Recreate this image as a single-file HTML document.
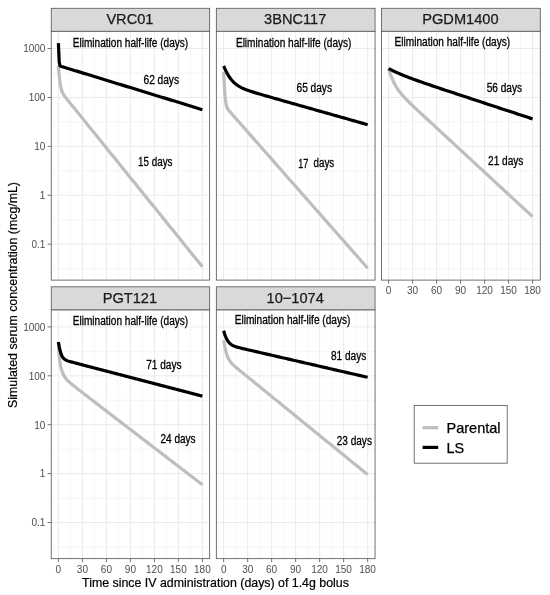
<!DOCTYPE html>
<html><head><meta charset="utf-8"><title>Simulated serum concentration</title>
<style>html,body{margin:0;padding:0;background:#fff}svg{display:block}</style></head>
<body>
<svg width="550" height="595" viewBox="0 0 550 595" font-family="'Liberation Sans', sans-serif">
<rect width="550" height="595" fill="#fff"/>
<rect x="51.25" y="8.3" width="158.4" height="23.05" fill="#d9d9d9" stroke="#5a5a5a" stroke-width="0.85"/>
<text x="129.9" y="24.3" font-size="14.6" text-anchor="middle" fill="#1a1a1a" stroke="#1a1a1a" stroke-width="0.25">VRC01</text>
<rect x="51.25" y="31.35" width="158.4" height="248.75" fill="#fff"/>
<line x1="58.40" x2="58.40" y1="31.35" y2="280.1" stroke="#ebebeb" stroke-width="1.0"/>
<line x1="70.40" x2="70.40" y1="31.35" y2="280.1" stroke="#ebebeb" stroke-width="0.5"/>
<line x1="82.40" x2="82.40" y1="31.35" y2="280.1" stroke="#ebebeb" stroke-width="1.0"/>
<line x1="94.40" x2="94.40" y1="31.35" y2="280.1" stroke="#ebebeb" stroke-width="0.5"/>
<line x1="106.40" x2="106.40" y1="31.35" y2="280.1" stroke="#ebebeb" stroke-width="1.0"/>
<line x1="118.40" x2="118.40" y1="31.35" y2="280.1" stroke="#ebebeb" stroke-width="0.5"/>
<line x1="130.40" x2="130.40" y1="31.35" y2="280.1" stroke="#ebebeb" stroke-width="1.0"/>
<line x1="142.40" x2="142.40" y1="31.35" y2="280.1" stroke="#ebebeb" stroke-width="0.5"/>
<line x1="154.40" x2="154.40" y1="31.35" y2="280.1" stroke="#ebebeb" stroke-width="1.0"/>
<line x1="166.40" x2="166.40" y1="31.35" y2="280.1" stroke="#ebebeb" stroke-width="0.5"/>
<line x1="178.40" x2="178.40" y1="31.35" y2="280.1" stroke="#ebebeb" stroke-width="1.0"/>
<line x1="190.40" x2="190.40" y1="31.35" y2="280.1" stroke="#ebebeb" stroke-width="0.5"/>
<line x1="202.40" x2="202.40" y1="31.35" y2="280.1" stroke="#ebebeb" stroke-width="1.0"/>
<line x1="51.25" x2="209.65" y1="268.60" y2="268.60" stroke="#ebebeb" stroke-width="0.5"/>
<line x1="51.25" x2="209.65" y1="244.15" y2="244.15" stroke="#ebebeb" stroke-width="1.0"/>
<line x1="51.25" x2="209.65" y1="219.70" y2="219.70" stroke="#ebebeb" stroke-width="0.5"/>
<line x1="51.25" x2="209.65" y1="195.25" y2="195.25" stroke="#ebebeb" stroke-width="1.0"/>
<line x1="51.25" x2="209.65" y1="170.80" y2="170.80" stroke="#ebebeb" stroke-width="0.5"/>
<line x1="51.25" x2="209.65" y1="146.35" y2="146.35" stroke="#ebebeb" stroke-width="1.0"/>
<line x1="51.25" x2="209.65" y1="121.90" y2="121.90" stroke="#ebebeb" stroke-width="0.5"/>
<line x1="51.25" x2="209.65" y1="97.45" y2="97.45" stroke="#ebebeb" stroke-width="1.0"/>
<line x1="51.25" x2="209.65" y1="73.00" y2="73.00" stroke="#ebebeb" stroke-width="0.5"/>
<line x1="51.25" x2="209.65" y1="48.55" y2="48.55" stroke="#ebebeb" stroke-width="1.0"/>
<polyline points="58.4,65.41 59.2,75.29 60,82.44 60.8,87.21 61.6,90.32 62.4,92.41 63.2,93.96 64,95.22 64.8,96.35 65.6,97.41 66.4,98.43 67.2,99.43 68,100.43 68.8,101.42 69.6,102.42 70.4,103.41 71.2,104.4 72,105.39 72.8,106.38 73.6,107.37 74.4,108.36 75.2,109.35 76,110.34 76.8,111.33 77.6,112.32 78.4,113.31 79.2,114.3 80,115.29 80.8,116.28 81.6,117.27 82.4,118.26 84.8,121.23 87.2,124.2 89.6,127.17 92,130.14 94.4,133.11 96.8,136.07 99.2,139.04 101.6,142.01 104,144.98 106.4,147.95 108.8,150.92 111.2,153.89 113.6,156.86 116,159.83 118.4,162.8 120.8,165.77 123.2,168.74 125.6,171.71 128,174.68 130.4,177.65 132.8,180.62 135.2,183.59 137.6,186.56 140,189.53 142.4,192.5 144.8,195.47 147.2,198.44 149.6,201.41 152,204.38 154.4,207.35 156.8,210.32 159.2,213.29 161.6,216.26 164,219.23 166.4,222.2 168.8,225.17 171.2,228.14 173.6,231.11 176,234.08 178.4,237.05 180.8,240.02 183.2,242.99 185.6,245.96 188,248.93 190.4,251.9 192.8,254.87 195.2,257.84 197.6,260.81 200,263.78 202.4,266.75" fill="none" stroke="#bebebe" stroke-width="3.2" stroke-linejoin="round"/>
<polyline points="58.4,43.11 59.2,62.1 60,65.6 60.8,66.2 61.6,66.49 62.4,66.73 63.2,66.98 64,67.23 64.8,67.47 65.6,67.72 66.4,67.96 67.2,68.21 68,68.45 68.8,68.7 69.6,68.94 70.4,69.19 71.2,69.43 72,69.68 72.8,69.92 73.6,70.17 74.4,70.41 75.2,70.66 76,70.91 76.8,71.15 77.6,71.4 78.4,71.64 79.2,71.89 80,72.13 80.8,72.38 81.6,72.62 82.4,72.87 84.8,73.6 87.2,74.34 89.6,75.08 92,75.81 94.4,76.55 96.8,77.28 99.2,78.02 101.6,78.76 104,79.49 106.4,80.23 108.8,80.96 111.2,81.7 113.6,82.44 116,83.17 118.4,83.91 120.8,84.64 123.2,85.38 125.6,86.12 128,86.85 130.4,87.59 132.8,88.32 135.2,89.06 137.6,89.8 140,90.53 142.4,91.27 144.8,92 147.2,92.74 149.6,93.48 152,94.21 154.4,94.95 156.8,95.68 159.2,96.42 161.6,97.16 164,97.89 166.4,98.63 168.8,99.36 171.2,100.1 173.6,100.84 176,101.57 178.4,102.31 180.8,103.04 183.2,103.78 185.6,104.52 188,105.25 190.4,105.99 192.8,106.72 195.2,107.46 197.6,108.2 200,108.93 202.4,109.67" fill="none" stroke="#000" stroke-width="3.2" stroke-linejoin="round"/>
<text x="72.7" y="46.5" font-size="12" textLength="115.5" lengthAdjust="spacingAndGlyphs" fill="#000" stroke="#000" stroke-width="0.3">Elimination half-life (days)</text>
<text x="143.5" y="84.0" font-size="12" textLength="35.5" lengthAdjust="spacingAndGlyphs" fill="#000" stroke="#000" stroke-width="0.3">62 days</text>
<text x="138.1" y="165.6" font-size="12" textLength="34.4" lengthAdjust="spacingAndGlyphs" fill="#000" stroke="#000" stroke-width="0.3">15 days</text>
<rect x="51.25" y="31.35" width="158.4" height="248.75" fill="none" stroke="#5a5a5a" stroke-width="0.85"/>
<line x1="47.6" x2="51.25" y1="48.55" y2="48.55" stroke="#5a5a5a" stroke-width="0.85"/>
<text x="45.4" y="52.3" font-size="10" text-anchor="end" fill="#4d4d4d">1000</text>
<line x1="47.6" x2="51.25" y1="97.45" y2="97.45" stroke="#5a5a5a" stroke-width="0.85"/>
<text x="45.4" y="101.2" font-size="10" text-anchor="end" fill="#4d4d4d">100</text>
<line x1="47.6" x2="51.25" y1="146.35" y2="146.35" stroke="#5a5a5a" stroke-width="0.85"/>
<text x="45.4" y="150.2" font-size="10" text-anchor="end" fill="#4d4d4d">10</text>
<line x1="47.6" x2="51.25" y1="195.25" y2="195.25" stroke="#5a5a5a" stroke-width="0.85"/>
<text x="45.4" y="199.1" font-size="10" text-anchor="end" fill="#4d4d4d">1</text>
<line x1="47.6" x2="51.25" y1="244.15" y2="244.15" stroke="#5a5a5a" stroke-width="0.85"/>
<text x="45.4" y="247.9" font-size="10" text-anchor="end" fill="#4d4d4d">0.1</text>
<rect x="216.35" y="8.3" width="158.7" height="23.05" fill="#d9d9d9" stroke="#5a5a5a" stroke-width="0.85"/>
<text x="295.2" y="24.3" font-size="14.6" text-anchor="middle" fill="#1a1a1a" stroke="#1a1a1a" stroke-width="0.25">3BNC117</text>
<rect x="216.35" y="31.35" width="158.7" height="248.75" fill="#fff"/>
<line x1="223.65" x2="223.65" y1="31.35" y2="280.1" stroke="#ebebeb" stroke-width="1.0"/>
<line x1="235.65" x2="235.65" y1="31.35" y2="280.1" stroke="#ebebeb" stroke-width="0.5"/>
<line x1="247.65" x2="247.65" y1="31.35" y2="280.1" stroke="#ebebeb" stroke-width="1.0"/>
<line x1="259.65" x2="259.65" y1="31.35" y2="280.1" stroke="#ebebeb" stroke-width="0.5"/>
<line x1="271.65" x2="271.65" y1="31.35" y2="280.1" stroke="#ebebeb" stroke-width="1.0"/>
<line x1="283.65" x2="283.65" y1="31.35" y2="280.1" stroke="#ebebeb" stroke-width="0.5"/>
<line x1="295.65" x2="295.65" y1="31.35" y2="280.1" stroke="#ebebeb" stroke-width="1.0"/>
<line x1="307.65" x2="307.65" y1="31.35" y2="280.1" stroke="#ebebeb" stroke-width="0.5"/>
<line x1="319.65" x2="319.65" y1="31.35" y2="280.1" stroke="#ebebeb" stroke-width="1.0"/>
<line x1="331.65" x2="331.65" y1="31.35" y2="280.1" stroke="#ebebeb" stroke-width="0.5"/>
<line x1="343.65" x2="343.65" y1="31.35" y2="280.1" stroke="#ebebeb" stroke-width="1.0"/>
<line x1="355.65" x2="355.65" y1="31.35" y2="280.1" stroke="#ebebeb" stroke-width="0.5"/>
<line x1="367.65" x2="367.65" y1="31.35" y2="280.1" stroke="#ebebeb" stroke-width="1.0"/>
<line x1="216.35" x2="375.0" y1="268.60" y2="268.60" stroke="#ebebeb" stroke-width="0.5"/>
<line x1="216.35" x2="375.0" y1="244.15" y2="244.15" stroke="#ebebeb" stroke-width="1.0"/>
<line x1="216.35" x2="375.0" y1="219.70" y2="219.70" stroke="#ebebeb" stroke-width="0.5"/>
<line x1="216.35" x2="375.0" y1="195.25" y2="195.25" stroke="#ebebeb" stroke-width="1.0"/>
<line x1="216.35" x2="375.0" y1="170.80" y2="170.80" stroke="#ebebeb" stroke-width="0.5"/>
<line x1="216.35" x2="375.0" y1="146.35" y2="146.35" stroke="#ebebeb" stroke-width="1.0"/>
<line x1="216.35" x2="375.0" y1="121.90" y2="121.90" stroke="#ebebeb" stroke-width="0.5"/>
<line x1="216.35" x2="375.0" y1="97.45" y2="97.45" stroke="#ebebeb" stroke-width="1.0"/>
<line x1="216.35" x2="375.0" y1="73.00" y2="73.00" stroke="#ebebeb" stroke-width="0.5"/>
<line x1="216.35" x2="375.0" y1="48.55" y2="48.55" stroke="#ebebeb" stroke-width="1.0"/>
<polyline points="223.65,71.82 224.45,87.62 225.25,98.18 226.05,104.01 226.85,107 227.65,108.71 228.45,109.92 229.25,110.93 230.05,111.88 230.85,112.8 231.65,113.72 232.45,114.63 233.25,115.54 234.05,116.45 234.85,117.36 235.65,118.26 236.45,119.17 237.25,120.08 238.05,120.99 238.85,121.9 239.65,122.81 240.45,123.72 241.25,124.62 242.05,125.53 242.85,126.44 243.65,127.35 244.45,128.26 245.25,129.17 246.05,130.08 246.85,130.99 247.65,131.89 250.05,134.62 252.45,137.35 254.85,140.07 257.25,142.8 259.65,145.52 262.05,148.25 264.45,150.98 266.85,153.7 269.25,156.43 271.65,159.15 274.05,161.88 276.45,164.61 278.85,167.33 281.25,170.06 283.65,172.78 286.05,175.51 288.45,178.24 290.85,180.96 293.25,183.69 295.65,186.41 298.05,189.14 300.45,191.87 302.85,194.59 305.25,197.32 307.65,200.04 310.05,202.77 312.45,205.5 314.85,208.22 317.25,210.95 319.65,213.67 322.05,216.4 324.45,219.13 326.85,221.85 329.25,224.58 331.65,227.3 334.05,230.03 336.45,232.76 338.85,235.48 341.25,238.21 343.65,240.93 346.05,243.66 348.45,246.39 350.85,249.11 353.25,251.84 355.65,254.56 358.05,257.29 360.45,260.02 362.85,262.74 365.25,265.47 367.65,268.19" fill="none" stroke="#bebebe" stroke-width="3.2" stroke-linejoin="round"/>
<polyline points="223.65,65.99 224.45,67.82 225.25,69.56 226.05,71.19 226.85,72.73 227.65,74.17 228.45,75.52 229.25,76.77 230.05,77.93 230.85,79.01 231.65,80.01 232.45,80.93 233.25,81.79 234.05,82.58 234.85,83.31 235.65,83.98 236.45,84.61 237.25,85.19 238.05,85.73 238.85,86.24 239.65,86.71 240.45,87.15 241.25,87.57 242.05,87.96 242.85,88.33 243.65,88.69 244.45,89.03 245.25,89.36 246.05,89.67 246.85,89.97 247.65,90.26 250.05,91.1 252.45,91.88 254.85,92.63 257.25,93.35 259.65,94.06 262.05,94.76 264.45,95.45 266.85,96.14 269.25,96.83 271.65,97.51 274.05,98.19 276.45,98.87 278.85,99.56 281.25,100.24 283.65,100.92 286.05,101.59 288.45,102.27 290.85,102.95 293.25,103.63 295.65,104.31 298.05,104.99 300.45,105.67 302.85,106.35 305.25,107.03 307.65,107.71 310.05,108.39 312.45,109.07 314.85,109.75 317.25,110.43 319.65,111.11 322.05,111.79 324.45,112.47 326.85,113.15 329.25,113.82 331.65,114.5 334.05,115.18 336.45,115.86 338.85,116.54 341.25,117.22 343.65,117.9 346.05,118.58 348.45,119.26 350.85,119.94 353.25,120.62 355.65,121.3 358.05,121.98 360.45,122.66 362.85,123.34 365.25,124.02 367.65,124.7" fill="none" stroke="#000" stroke-width="3.2" stroke-linejoin="round"/>
<text x="235.9" y="46.5" font-size="12" textLength="115.6" lengthAdjust="spacingAndGlyphs" fill="#000" stroke="#000" stroke-width="0.3">Elimination half-life (days)</text>
<text x="296.5" y="91.9" font-size="12" textLength="35.5" lengthAdjust="spacingAndGlyphs" fill="#000" stroke="#000" stroke-width="0.3">65 days</text>
<text x="298.3" y="167.6" font-size="12" textLength="10.0" lengthAdjust="spacingAndGlyphs" fill="#000" stroke="#000" stroke-width="0.3">17</text>
<text x="313.5" y="166.6" font-size="12" textLength="20.8" lengthAdjust="spacingAndGlyphs" fill="#000" stroke="#000" stroke-width="0.3">days</text>
<rect x="216.35" y="31.35" width="158.7" height="248.75" fill="none" stroke="#5a5a5a" stroke-width="0.85"/>
<rect x="381.5" y="8.3" width="158.8" height="23.05" fill="#d9d9d9" stroke="#5a5a5a" stroke-width="0.85"/>
<text x="460.4" y="24.3" font-size="14.6" text-anchor="middle" fill="#1a1a1a" stroke="#1a1a1a" stroke-width="0.25">PGDM1400</text>
<rect x="381.5" y="31.35" width="158.8" height="248.75" fill="#fff"/>
<line x1="388.60" x2="388.60" y1="31.35" y2="280.1" stroke="#ebebeb" stroke-width="1.0"/>
<line x1="400.60" x2="400.60" y1="31.35" y2="280.1" stroke="#ebebeb" stroke-width="0.5"/>
<line x1="412.60" x2="412.60" y1="31.35" y2="280.1" stroke="#ebebeb" stroke-width="1.0"/>
<line x1="424.60" x2="424.60" y1="31.35" y2="280.1" stroke="#ebebeb" stroke-width="0.5"/>
<line x1="436.60" x2="436.60" y1="31.35" y2="280.1" stroke="#ebebeb" stroke-width="1.0"/>
<line x1="448.60" x2="448.60" y1="31.35" y2="280.1" stroke="#ebebeb" stroke-width="0.5"/>
<line x1="460.60" x2="460.60" y1="31.35" y2="280.1" stroke="#ebebeb" stroke-width="1.0"/>
<line x1="472.60" x2="472.60" y1="31.35" y2="280.1" stroke="#ebebeb" stroke-width="0.5"/>
<line x1="484.60" x2="484.60" y1="31.35" y2="280.1" stroke="#ebebeb" stroke-width="1.0"/>
<line x1="496.60" x2="496.60" y1="31.35" y2="280.1" stroke="#ebebeb" stroke-width="0.5"/>
<line x1="508.60" x2="508.60" y1="31.35" y2="280.1" stroke="#ebebeb" stroke-width="1.0"/>
<line x1="520.60" x2="520.60" y1="31.35" y2="280.1" stroke="#ebebeb" stroke-width="0.5"/>
<line x1="532.60" x2="532.60" y1="31.35" y2="280.1" stroke="#ebebeb" stroke-width="1.0"/>
<line x1="381.5" x2="540.25" y1="268.60" y2="268.60" stroke="#ebebeb" stroke-width="0.5"/>
<line x1="381.5" x2="540.25" y1="244.15" y2="244.15" stroke="#ebebeb" stroke-width="1.0"/>
<line x1="381.5" x2="540.25" y1="219.70" y2="219.70" stroke="#ebebeb" stroke-width="0.5"/>
<line x1="381.5" x2="540.25" y1="195.25" y2="195.25" stroke="#ebebeb" stroke-width="1.0"/>
<line x1="381.5" x2="540.25" y1="170.80" y2="170.80" stroke="#ebebeb" stroke-width="0.5"/>
<line x1="381.5" x2="540.25" y1="146.35" y2="146.35" stroke="#ebebeb" stroke-width="1.0"/>
<line x1="381.5" x2="540.25" y1="121.90" y2="121.90" stroke="#ebebeb" stroke-width="0.5"/>
<line x1="381.5" x2="540.25" y1="97.45" y2="97.45" stroke="#ebebeb" stroke-width="1.0"/>
<line x1="381.5" x2="540.25" y1="73.00" y2="73.00" stroke="#ebebeb" stroke-width="0.5"/>
<line x1="381.5" x2="540.25" y1="48.55" y2="48.55" stroke="#ebebeb" stroke-width="1.0"/>
<polyline points="388.6,68.55 389.4,71.08 390.2,73.46 391,75.68 391.8,77.74 392.6,79.66 393.4,81.45 394.2,83.1 395,84.64 395.8,86.08 396.6,87.42 397.4,88.68 398.2,89.87 399,90.99 399.8,92.05 400.6,93.07 401.4,94.05 402.2,94.99 403,95.9 403.8,96.78 404.6,97.64 405.4,98.48 406.2,99.31 407,100.12 407.8,100.92 408.6,101.71 409.4,102.49 410.2,103.27 411,104.04 411.8,104.8 412.6,105.57 415,107.83 417.4,110.08 419.8,112.31 422.2,114.54 424.6,116.77 427,118.99 429.4,121.21 431.8,123.43 434.2,125.65 436.6,127.87 439,130.09 441.4,132.31 443.8,134.53 446.2,136.75 448.6,138.96 451,141.18 453.4,143.4 455.8,145.62 458.2,147.84 460.6,150.06 463,152.28 465.4,154.5 467.8,156.72 470.2,158.94 472.6,161.16 475,163.38 477.4,165.59 479.8,167.81 482.2,170.03 484.6,172.25 487,174.47 489.4,176.69 491.8,178.91 494.2,181.13 496.6,183.35 499,185.57 501.4,187.79 503.8,190.01 506.2,192.22 508.6,194.44 511,196.66 513.4,198.88 515.8,201.1 518.2,203.32 520.6,205.54 523,207.76 525.4,209.98 527.8,212.2 530.2,214.42 532.6,216.64" fill="none" stroke="#bebebe" stroke-width="3.2" stroke-linejoin="round"/>
<polyline points="388.6,68.55 389.4,68.97 390.2,69.38 391,69.78 391.8,70.18 392.6,70.57 393.4,70.96 394.2,71.34 395,71.71 395.8,72.08 396.6,72.44 397.4,72.8 398.2,73.15 399,73.5 399.8,73.84 400.6,74.18 401.4,74.52 402.2,74.85 403,75.18 403.8,75.5 404.6,75.82 405.4,76.14 406.2,76.46 407,76.77 407.8,77.08 408.6,77.38 409.4,77.69 410.2,77.99 411,78.29 411.8,78.59 412.6,78.89 415,79.77 417.4,80.63 419.8,81.49 422.2,82.33 424.6,83.16 427,83.99 429.4,84.81 431.8,85.63 434.2,86.44 436.6,87.25 439,88.06 441.4,88.86 443.8,89.66 446.2,90.46 448.6,91.26 451,92.05 453.4,92.85 455.8,93.64 458.2,94.43 460.6,95.22 463,96.02 465.4,96.81 467.8,97.6 470.2,98.39 472.6,99.18 475,99.97 477.4,100.76 479.8,101.55 482.2,102.34 484.6,103.13 487,103.92 489.4,104.7 491.8,105.49 494.2,106.28 496.6,107.07 499,107.86 501.4,108.65 503.8,109.44 506.2,110.23 508.6,111.01 511,111.8 513.4,112.59 515.8,113.38 518.2,114.17 520.6,114.96 523,115.75 525.4,116.54 527.8,117.32 530.2,118.11 532.6,118.9" fill="none" stroke="#000" stroke-width="3.2" stroke-linejoin="round"/>
<text x="394.6" y="46.2" font-size="12" textLength="115.5" lengthAdjust="spacingAndGlyphs" fill="#000" stroke="#000" stroke-width="0.3">Elimination half-life (days)</text>
<text x="486.7" y="91.6" font-size="12" textLength="35.3" lengthAdjust="spacingAndGlyphs" fill="#000" stroke="#000" stroke-width="0.3">56 days</text>
<text x="488.1" y="164.6" font-size="12" textLength="35.3" lengthAdjust="spacingAndGlyphs" fill="#000" stroke="#000" stroke-width="0.3">21 days</text>
<rect x="381.5" y="31.35" width="158.8" height="248.75" fill="none" stroke="#5a5a5a" stroke-width="0.85"/>
<line x1="388.60" x2="388.60" y1="280.1" y2="283.7" stroke="#5a5a5a" stroke-width="0.85"/>
<text x="388.6" y="294.1" font-size="10" text-anchor="middle" fill="#4d4d4d">0</text>
<line x1="412.60" x2="412.60" y1="280.1" y2="283.7" stroke="#5a5a5a" stroke-width="0.85"/>
<text x="412.6" y="294.1" font-size="10" text-anchor="middle" fill="#4d4d4d">30</text>
<line x1="436.60" x2="436.60" y1="280.1" y2="283.7" stroke="#5a5a5a" stroke-width="0.85"/>
<text x="436.6" y="294.1" font-size="10" text-anchor="middle" fill="#4d4d4d">60</text>
<line x1="460.60" x2="460.60" y1="280.1" y2="283.7" stroke="#5a5a5a" stroke-width="0.85"/>
<text x="460.6" y="294.1" font-size="10" text-anchor="middle" fill="#4d4d4d">90</text>
<line x1="484.60" x2="484.60" y1="280.1" y2="283.7" stroke="#5a5a5a" stroke-width="0.85"/>
<text x="484.6" y="294.1" font-size="10" text-anchor="middle" fill="#4d4d4d">120</text>
<line x1="508.60" x2="508.60" y1="280.1" y2="283.7" stroke="#5a5a5a" stroke-width="0.85"/>
<text x="508.6" y="294.1" font-size="10" text-anchor="middle" fill="#4d4d4d">150</text>
<line x1="532.60" x2="532.60" y1="280.1" y2="283.7" stroke="#5a5a5a" stroke-width="0.85"/>
<text x="532.6" y="294.1" font-size="10" text-anchor="middle" fill="#4d4d4d">180</text>
<rect x="51.25" y="286.8" width="158.4" height="23.20" fill="#d9d9d9" stroke="#5a5a5a" stroke-width="0.85"/>
<text x="129.9" y="302.8" font-size="14.6" text-anchor="middle" fill="#1a1a1a" stroke="#1a1a1a" stroke-width="0.25">PGT121</text>
<rect x="51.25" y="310.0" width="158.4" height="248.65" fill="#fff"/>
<line x1="58.40" x2="58.40" y1="310.0" y2="558.65" stroke="#ebebeb" stroke-width="1.0"/>
<line x1="70.40" x2="70.40" y1="310.0" y2="558.65" stroke="#ebebeb" stroke-width="0.5"/>
<line x1="82.40" x2="82.40" y1="310.0" y2="558.65" stroke="#ebebeb" stroke-width="1.0"/>
<line x1="94.40" x2="94.40" y1="310.0" y2="558.65" stroke="#ebebeb" stroke-width="0.5"/>
<line x1="106.40" x2="106.40" y1="310.0" y2="558.65" stroke="#ebebeb" stroke-width="1.0"/>
<line x1="118.40" x2="118.40" y1="310.0" y2="558.65" stroke="#ebebeb" stroke-width="0.5"/>
<line x1="130.40" x2="130.40" y1="310.0" y2="558.65" stroke="#ebebeb" stroke-width="1.0"/>
<line x1="142.40" x2="142.40" y1="310.0" y2="558.65" stroke="#ebebeb" stroke-width="0.5"/>
<line x1="154.40" x2="154.40" y1="310.0" y2="558.65" stroke="#ebebeb" stroke-width="1.0"/>
<line x1="166.40" x2="166.40" y1="310.0" y2="558.65" stroke="#ebebeb" stroke-width="0.5"/>
<line x1="178.40" x2="178.40" y1="310.0" y2="558.65" stroke="#ebebeb" stroke-width="1.0"/>
<line x1="190.40" x2="190.40" y1="310.0" y2="558.65" stroke="#ebebeb" stroke-width="0.5"/>
<line x1="202.40" x2="202.40" y1="310.0" y2="558.65" stroke="#ebebeb" stroke-width="1.0"/>
<line x1="51.25" x2="209.65" y1="546.95" y2="546.95" stroke="#ebebeb" stroke-width="0.5"/>
<line x1="51.25" x2="209.65" y1="522.50" y2="522.50" stroke="#ebebeb" stroke-width="1.0"/>
<line x1="51.25" x2="209.65" y1="498.05" y2="498.05" stroke="#ebebeb" stroke-width="0.5"/>
<line x1="51.25" x2="209.65" y1="473.60" y2="473.60" stroke="#ebebeb" stroke-width="1.0"/>
<line x1="51.25" x2="209.65" y1="449.15" y2="449.15" stroke="#ebebeb" stroke-width="0.5"/>
<line x1="51.25" x2="209.65" y1="424.70" y2="424.70" stroke="#ebebeb" stroke-width="1.0"/>
<line x1="51.25" x2="209.65" y1="400.25" y2="400.25" stroke="#ebebeb" stroke-width="0.5"/>
<line x1="51.25" x2="209.65" y1="375.80" y2="375.80" stroke="#ebebeb" stroke-width="1.0"/>
<line x1="51.25" x2="209.65" y1="351.35" y2="351.35" stroke="#ebebeb" stroke-width="0.5"/>
<line x1="51.25" x2="209.65" y1="326.90" y2="326.90" stroke="#ebebeb" stroke-width="1.0"/>
<polyline points="58.4,342.3 59.2,355.6 60,362.36 60.8,366.56 61.6,369.67 62.4,372.11 63.2,374.08 64,375.68 64.8,377.01 65.6,378.14 66.4,379.13 67.2,380.02 68,380.83 68.8,381.59 69.6,382.32 70.4,383.02 71.2,383.7 72,384.36 72.8,385.02 73.6,385.67 74.4,386.31 75.2,386.95 76,387.58 76.8,388.22 77.6,388.85 78.4,389.48 79.2,390.1 80,390.73 80.8,391.35 81.6,391.98 82.4,392.6 84.8,394.46 87.2,396.32 89.6,398.18 92,400.03 94.4,401.88 96.8,403.72 99.2,405.57 101.6,407.41 104,409.25 106.4,411.1 108.8,412.94 111.2,414.78 113.6,416.62 116,418.46 118.4,420.3 120.8,422.14 123.2,423.98 125.6,425.82 128,427.66 130.4,429.5 132.8,431.34 135.2,433.18 137.6,435.02 140,436.87 142.4,438.71 144.8,440.55 147.2,442.39 149.6,444.23 152,446.07 154.4,447.91 156.8,449.75 159.2,451.59 161.6,453.43 164,455.27 166.4,457.11 168.8,458.95 171.2,460.79 173.6,462.63 176,464.47 178.4,466.31 180.8,468.15 183.2,469.99 185.6,471.83 188,473.67 190.4,475.51 192.8,477.35 195.2,479.19 197.6,481.03 200,482.87 202.4,484.71" fill="none" stroke="#bebebe" stroke-width="3.2" stroke-linejoin="round"/>
<polyline points="58.4,342.01 59.2,346.61 60,350.29 60.8,353.12 61.6,355.24 62.4,356.8 63.2,357.94 64,358.78 64.8,359.42 65.6,359.91 66.4,360.31 67.2,360.64 68,360.93 68.8,361.19 69.6,361.43 70.4,361.67 71.2,361.89 72,362.11 72.8,362.32 73.6,362.54 74.4,362.75 75.2,362.96 76,363.17 76.8,363.38 77.6,363.59 78.4,363.8 79.2,364.01 80,364.22 80.8,364.42 81.6,364.63 82.4,364.84 84.8,365.47 87.2,366.1 89.6,366.72 92,367.35 94.4,367.97 96.8,368.6 99.2,369.23 101.6,369.85 104,370.48 106.4,371.11 108.8,371.73 111.2,372.36 113.6,372.99 116,373.61 118.4,374.24 120.8,374.86 123.2,375.49 125.6,376.12 128,376.74 130.4,377.37 132.8,378 135.2,378.62 137.6,379.25 140,379.88 142.4,380.5 144.8,381.13 147.2,381.76 149.6,382.38 152,383.01 154.4,383.63 156.8,384.26 159.2,384.89 161.6,385.51 164,386.14 166.4,386.77 168.8,387.39 171.2,388.02 173.6,388.65 176,389.27 178.4,389.9 180.8,390.52 183.2,391.15 185.6,391.78 188,392.4 190.4,393.03 192.8,393.66 195.2,394.28 197.6,394.91 200,395.54 202.4,396.16" fill="none" stroke="#000" stroke-width="3.2" stroke-linejoin="round"/>
<text x="72.7" y="324.5" font-size="12" textLength="115.5" lengthAdjust="spacingAndGlyphs" fill="#000" stroke="#000" stroke-width="0.3">Elimination half-life (days)</text>
<text x="146.2" y="368.6" font-size="12" textLength="35.3" lengthAdjust="spacingAndGlyphs" fill="#000" stroke="#000" stroke-width="0.3">71 days</text>
<text x="160.5" y="443.1" font-size="12" textLength="35.0" lengthAdjust="spacingAndGlyphs" fill="#000" stroke="#000" stroke-width="0.3">24 days</text>
<rect x="51.25" y="310.0" width="158.4" height="248.65" fill="none" stroke="#5a5a5a" stroke-width="0.85"/>
<line x1="47.6" x2="51.25" y1="326.90" y2="326.90" stroke="#5a5a5a" stroke-width="0.85"/>
<text x="45.4" y="330.7" font-size="10" text-anchor="end" fill="#4d4d4d">1000</text>
<line x1="47.6" x2="51.25" y1="375.80" y2="375.80" stroke="#5a5a5a" stroke-width="0.85"/>
<text x="45.4" y="379.6" font-size="10" text-anchor="end" fill="#4d4d4d">100</text>
<line x1="47.6" x2="51.25" y1="424.70" y2="424.70" stroke="#5a5a5a" stroke-width="0.85"/>
<text x="45.4" y="428.5" font-size="10" text-anchor="end" fill="#4d4d4d">10</text>
<line x1="47.6" x2="51.25" y1="473.60" y2="473.60" stroke="#5a5a5a" stroke-width="0.85"/>
<text x="45.4" y="477.4" font-size="10" text-anchor="end" fill="#4d4d4d">1</text>
<line x1="47.6" x2="51.25" y1="522.50" y2="522.50" stroke="#5a5a5a" stroke-width="0.85"/>
<text x="45.4" y="526.3" font-size="10" text-anchor="end" fill="#4d4d4d">0.1</text>
<line x1="58.40" x2="58.40" y1="558.65" y2="562.2" stroke="#5a5a5a" stroke-width="0.85"/>
<text x="58.4" y="572.6" font-size="10" text-anchor="middle" fill="#4d4d4d">0</text>
<line x1="82.40" x2="82.40" y1="558.65" y2="562.2" stroke="#5a5a5a" stroke-width="0.85"/>
<text x="82.4" y="572.6" font-size="10" text-anchor="middle" fill="#4d4d4d">30</text>
<line x1="106.40" x2="106.40" y1="558.65" y2="562.2" stroke="#5a5a5a" stroke-width="0.85"/>
<text x="106.4" y="572.6" font-size="10" text-anchor="middle" fill="#4d4d4d">60</text>
<line x1="130.40" x2="130.40" y1="558.65" y2="562.2" stroke="#5a5a5a" stroke-width="0.85"/>
<text x="130.4" y="572.6" font-size="10" text-anchor="middle" fill="#4d4d4d">90</text>
<line x1="154.40" x2="154.40" y1="558.65" y2="562.2" stroke="#5a5a5a" stroke-width="0.85"/>
<text x="154.4" y="572.6" font-size="10" text-anchor="middle" fill="#4d4d4d">120</text>
<line x1="178.40" x2="178.40" y1="558.65" y2="562.2" stroke="#5a5a5a" stroke-width="0.85"/>
<text x="178.4" y="572.6" font-size="10" text-anchor="middle" fill="#4d4d4d">150</text>
<line x1="202.40" x2="202.40" y1="558.65" y2="562.2" stroke="#5a5a5a" stroke-width="0.85"/>
<text x="202.4" y="572.6" font-size="10" text-anchor="middle" fill="#4d4d4d">180</text>
<rect x="216.35" y="286.8" width="158.7" height="23.20" fill="#d9d9d9" stroke="#5a5a5a" stroke-width="0.85"/>
<text x="295.2" y="302.8" font-size="14.6" text-anchor="middle" fill="#1a1a1a" stroke="#1a1a1a" stroke-width="0.25">10−1074</text>
<rect x="216.35" y="310.0" width="158.7" height="248.65" fill="#fff"/>
<line x1="223.65" x2="223.65" y1="310.0" y2="558.65" stroke="#ebebeb" stroke-width="1.0"/>
<line x1="235.65" x2="235.65" y1="310.0" y2="558.65" stroke="#ebebeb" stroke-width="0.5"/>
<line x1="247.65" x2="247.65" y1="310.0" y2="558.65" stroke="#ebebeb" stroke-width="1.0"/>
<line x1="259.65" x2="259.65" y1="310.0" y2="558.65" stroke="#ebebeb" stroke-width="0.5"/>
<line x1="271.65" x2="271.65" y1="310.0" y2="558.65" stroke="#ebebeb" stroke-width="1.0"/>
<line x1="283.65" x2="283.65" y1="310.0" y2="558.65" stroke="#ebebeb" stroke-width="0.5"/>
<line x1="295.65" x2="295.65" y1="310.0" y2="558.65" stroke="#ebebeb" stroke-width="1.0"/>
<line x1="307.65" x2="307.65" y1="310.0" y2="558.65" stroke="#ebebeb" stroke-width="0.5"/>
<line x1="319.65" x2="319.65" y1="310.0" y2="558.65" stroke="#ebebeb" stroke-width="1.0"/>
<line x1="331.65" x2="331.65" y1="310.0" y2="558.65" stroke="#ebebeb" stroke-width="0.5"/>
<line x1="343.65" x2="343.65" y1="310.0" y2="558.65" stroke="#ebebeb" stroke-width="1.0"/>
<line x1="355.65" x2="355.65" y1="310.0" y2="558.65" stroke="#ebebeb" stroke-width="0.5"/>
<line x1="367.65" x2="367.65" y1="310.0" y2="558.65" stroke="#ebebeb" stroke-width="1.0"/>
<line x1="216.35" x2="375.0" y1="546.95" y2="546.95" stroke="#ebebeb" stroke-width="0.5"/>
<line x1="216.35" x2="375.0" y1="522.50" y2="522.50" stroke="#ebebeb" stroke-width="1.0"/>
<line x1="216.35" x2="375.0" y1="498.05" y2="498.05" stroke="#ebebeb" stroke-width="0.5"/>
<line x1="216.35" x2="375.0" y1="473.60" y2="473.60" stroke="#ebebeb" stroke-width="1.0"/>
<line x1="216.35" x2="375.0" y1="449.15" y2="449.15" stroke="#ebebeb" stroke-width="0.5"/>
<line x1="216.35" x2="375.0" y1="424.70" y2="424.70" stroke="#ebebeb" stroke-width="1.0"/>
<line x1="216.35" x2="375.0" y1="400.25" y2="400.25" stroke="#ebebeb" stroke-width="0.5"/>
<line x1="216.35" x2="375.0" y1="375.80" y2="375.80" stroke="#ebebeb" stroke-width="1.0"/>
<line x1="216.35" x2="375.0" y1="351.35" y2="351.35" stroke="#ebebeb" stroke-width="0.5"/>
<line x1="216.35" x2="375.0" y1="326.90" y2="326.90" stroke="#ebebeb" stroke-width="1.0"/>
<polyline points="223.65,340.3 224.45,345 225.25,348.96 226.05,352.22 226.85,354.86 227.65,356.99 228.45,358.72 229.25,360.15 230.05,361.35 230.85,362.38 231.65,363.3 232.45,364.14 233.25,364.92 234.05,365.66 234.85,366.37 235.65,367.06 236.45,367.74 237.25,368.42 238.05,369.08 238.85,369.74 239.65,370.4 240.45,371.05 241.25,371.71 242.05,372.36 242.85,373.01 243.65,373.67 244.45,374.32 245.25,374.97 246.05,375.62 246.85,376.27 247.65,376.93 250.05,378.88 252.45,380.83 254.85,382.79 257.25,384.74 259.65,386.7 262.05,388.65 264.45,390.6 266.85,392.56 269.25,394.51 271.65,396.47 274.05,398.42 276.45,400.37 278.85,402.33 281.25,404.28 283.65,406.24 286.05,408.19 288.45,410.14 290.85,412.1 293.25,414.05 295.65,416.01 298.05,417.96 300.45,419.91 302.85,421.87 305.25,423.82 307.65,425.78 310.05,427.73 312.45,429.68 314.85,431.64 317.25,433.59 319.65,435.55 322.05,437.5 324.45,439.45 326.85,441.41 329.25,443.36 331.65,445.32 334.05,447.27 336.45,449.22 338.85,451.18 341.25,453.13 343.65,455.09 346.05,457.04 348.45,458.99 350.85,460.95 353.25,462.9 355.65,464.86 358.05,466.81 360.45,468.77 362.85,470.72 365.25,472.67 367.65,474.63" fill="none" stroke="#bebebe" stroke-width="3.2" stroke-linejoin="round"/>
<polyline points="223.65,330.81 224.45,333.47 225.25,335.76 226.05,337.71 226.85,339.36 227.65,340.73 228.45,341.87 229.25,342.81 230.05,343.59 230.85,344.25 231.65,344.8 232.45,345.26 233.25,345.67 234.05,346.02 234.85,346.34 235.65,346.62 236.45,346.88 237.25,347.13 238.05,347.36 238.85,347.57 239.65,347.78 240.45,347.99 241.25,348.19 242.05,348.38 242.85,348.58 243.65,348.77 244.45,348.96 245.25,349.15 246.05,349.33 246.85,349.52 247.65,349.71 250.05,350.26 252.45,350.81 254.85,351.37 257.25,351.92 259.65,352.47 262.05,353.02 264.45,353.58 266.85,354.13 269.25,354.68 271.65,355.23 274.05,355.78 276.45,356.34 278.85,356.89 281.25,357.44 283.65,357.99 286.05,358.54 288.45,359.1 290.85,359.65 293.25,360.2 295.65,360.75 298.05,361.3 300.45,361.86 302.85,362.41 305.25,362.96 307.65,363.51 310.05,364.06 312.45,364.62 314.85,365.17 317.25,365.72 319.65,366.27 322.05,366.82 324.45,367.38 326.85,367.93 329.25,368.48 331.65,369.03 334.05,369.58 336.45,370.14 338.85,370.69 341.25,371.24 343.65,371.79 346.05,372.34 348.45,372.9 350.85,373.45 353.25,374 355.65,374.55 358.05,375.1 360.45,375.66 362.85,376.21 365.25,376.76 367.65,377.31" fill="none" stroke="#000" stroke-width="3.2" stroke-linejoin="round"/>
<text x="234.7" y="324.2" font-size="12" textLength="115.7" lengthAdjust="spacingAndGlyphs" fill="#000" stroke="#000" stroke-width="0.3">Elimination half-life (days)</text>
<text x="331.0" y="359.7" font-size="12" textLength="35.2" lengthAdjust="spacingAndGlyphs" fill="#000" stroke="#000" stroke-width="0.3">81 days</text>
<text x="336.8" y="444.9" font-size="12" textLength="35.1" lengthAdjust="spacingAndGlyphs" fill="#000" stroke="#000" stroke-width="0.3">23 days</text>
<rect x="216.35" y="310.0" width="158.7" height="248.65" fill="none" stroke="#5a5a5a" stroke-width="0.85"/>
<line x1="223.65" x2="223.65" y1="558.65" y2="562.2" stroke="#5a5a5a" stroke-width="0.85"/>
<text x="223.7" y="572.6" font-size="10" text-anchor="middle" fill="#4d4d4d">0</text>
<line x1="247.65" x2="247.65" y1="558.65" y2="562.2" stroke="#5a5a5a" stroke-width="0.85"/>
<text x="247.7" y="572.6" font-size="10" text-anchor="middle" fill="#4d4d4d">30</text>
<line x1="271.65" x2="271.65" y1="558.65" y2="562.2" stroke="#5a5a5a" stroke-width="0.85"/>
<text x="271.6" y="572.6" font-size="10" text-anchor="middle" fill="#4d4d4d">60</text>
<line x1="295.65" x2="295.65" y1="558.65" y2="562.2" stroke="#5a5a5a" stroke-width="0.85"/>
<text x="295.6" y="572.6" font-size="10" text-anchor="middle" fill="#4d4d4d">90</text>
<line x1="319.65" x2="319.65" y1="558.65" y2="562.2" stroke="#5a5a5a" stroke-width="0.85"/>
<text x="319.6" y="572.6" font-size="10" text-anchor="middle" fill="#4d4d4d">120</text>
<line x1="343.65" x2="343.65" y1="558.65" y2="562.2" stroke="#5a5a5a" stroke-width="0.85"/>
<text x="343.6" y="572.6" font-size="10" text-anchor="middle" fill="#4d4d4d">150</text>
<line x1="367.65" x2="367.65" y1="558.65" y2="562.2" stroke="#5a5a5a" stroke-width="0.85"/>
<text x="367.6" y="572.6" font-size="10" text-anchor="middle" fill="#4d4d4d">180</text>
<text x="82.1" y="587.0" font-size="12.36" fill="#000" stroke="#000" stroke-width="0.2">Time since IV administration (days) of 1.4g bolus</text>
<text transform="translate(17.2,295.0) rotate(-90)" font-size="12.36" text-anchor="middle" fill="#000" stroke="#000" stroke-width="0.2">Simulated serum concentration (mcg/mL)</text>
<rect x="414.2" y="405.4" width="93" height="57.8" fill="#fff" stroke="#5a5a5a" stroke-width="0.85"/>
<line x1="422.6" x2="438.2" y1="427.7" y2="427.7" stroke="#bebebe" stroke-width="3.2"/>
<line x1="422.6" x2="438.2" y1="447.4" y2="447.4" stroke="#000" stroke-width="3.2"/>
<text x="446.5" y="433.0" font-size="14.5" fill="#000" stroke="#000" stroke-width="0.25">Parental</text>
<text x="446.5" y="452.6" font-size="14.5" fill="#000" stroke="#000" stroke-width="0.25">LS</text>
</svg>
</body></html>
